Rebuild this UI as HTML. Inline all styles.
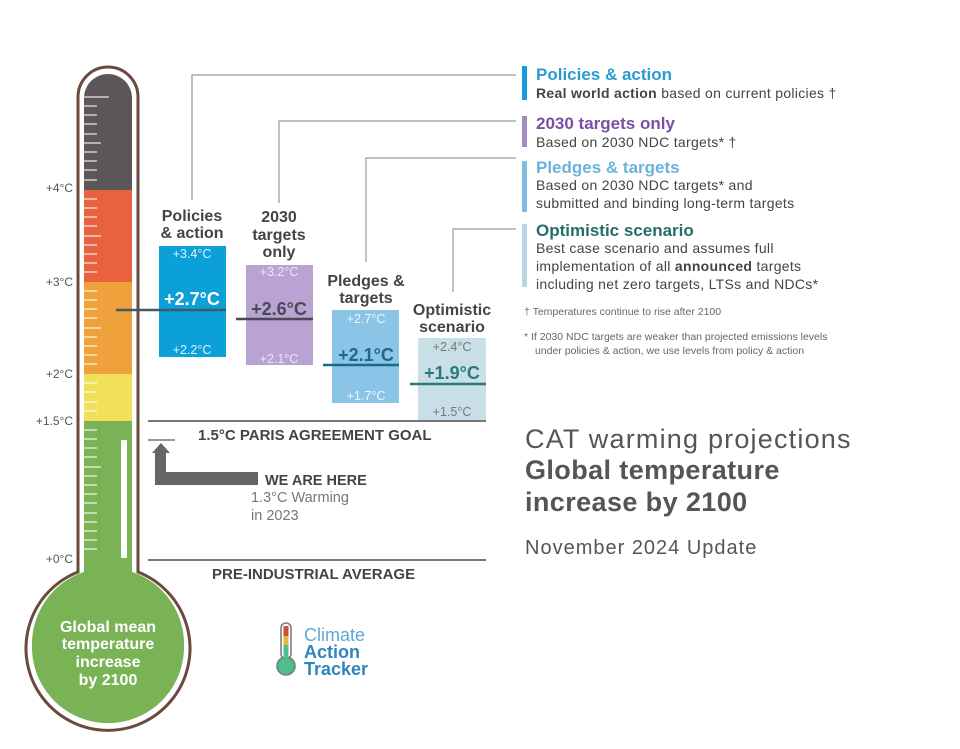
<!DOCTYPE html>
<html><head><meta charset="utf-8"><style>
body{margin:0;background:#fff;}
svg{display:block;font-family:"Liberation Sans",sans-serif;}
</style></head><body>
<svg width="960" height="749" viewBox="0 0 960 749" xmlns="http://www.w3.org/2000/svg">
<path d="M78,572 L78,97 A30,30 0 0 1 138,97 L138,572 A82,82 0 1 1 78,572 Z" fill="#fff" stroke="#6b4a3e" stroke-width="3"/>
<clipPath id="tube"><path d="M84,575 L84,98 A24,24 0 0 1 132,98 L132,575 A76,76 0 1 1 84,575 Z"/></clipPath>
<g clip-path="url(#tube)">
<rect x="70" y="60" width="80" height="130" fill="#5b5657"/>
<rect x="70" y="190" width="80" height="92" fill="#e9623f"/>
<rect x="70" y="282" width="80" height="92" fill="#efa23c"/>
<rect x="70" y="374" width="80" height="47" fill="#f1e05a"/>
<rect x="20" y="421" width="180" height="320" fill="#7ab356"/>
</g>
<circle cx="108" cy="644" r="76" fill="#7ab356"/>
<rect x="84" y="421" width="48" height="160" fill="#7ab356"/>
<rect x="121" y="440" width="6" height="118" fill="#fff"/>
<g stroke="#fff" stroke-width="1.2" opacity="0.85">
<path d="M84,97h25M84,106h13M84,115h13M84,124h13M84,134h13M84,143h17M84,152h13M84,161h13M84,170h13M84,180h13M84,199h13M84,208h13M84,217h13M84,226h13M84,236h17M84,245h13M84,254h13M84,263h13M84,272h13M84,291h13M84,300h13M84,309h13M84,318h13M84,328h17M84,337h13M84,346h13M84,355h13M84,364h13M84,383h13M84,392h13M84,402h13M84,411h13M84,430h13M84,439h13M84,448h13M84,457h13M84,467h17M84,476h13M84,485h13M84,494h13M84,503h13M84,513h13M84,522h13M84,531h13M84,540h13M84,549h13"/>
</g>
<g font-size="12" fill="#555" text-anchor="end">
<text x="73" y="192">+4°C</text><text x="73" y="286">+3°C</text><text x="73" y="378">+2°C</text><text x="73" y="425">+1.5°C</text><text x="73" y="563">+0°C</text>
</g>
<g font-size="16" font-weight="bold" fill="#fff" text-anchor="middle">
<text x="108" y="632">Global mean</text><text x="108" y="649">temperature</text><text x="108" y="667">increase</text><text x="108" y="685">by 2100</text>
</g>
<g stroke="#999" stroke-width="1.2" fill="none">
<path d="M192,200V75H516M279,203V121H516M366,262V158H516M453,292V229H516"/>
</g>
<rect x="159" y="246" width="67" height="111" fill="#0ca0d8"/>
<rect x="246" y="265" width="67" height="100" fill="#b8a3d2"/>
<rect x="332" y="310" width="67" height="93" fill="#8ac4e6"/>
<rect x="418" y="338" width="68" height="82" fill="#c8dfe8"/>
<g stroke-width="2.5">
<line x1="116" y1="310" x2="226" y2="310" stroke="#3f5a6b"/>
<line x1="236" y1="319" x2="313" y2="319" stroke="#4a4a55"/>
<line x1="323" y1="365" x2="399" y2="365" stroke="#1c6a8a"/>
<line x1="410" y1="384" x2="486" y2="384" stroke="#2a7a78"/>
</g>
<g font-weight="bold" font-size="16" fill="#444" text-anchor="middle">
<text x="192" y="221">Policies</text><text x="192" y="238">&amp; action</text>
<text x="279" y="222">2030</text><text x="279" y="240">targets</text><text x="279" y="257">only</text>
<text x="366" y="286">Pledges &amp;</text><text x="366" y="303">targets</text>
<text x="452" y="315">Optimistic</text><text x="452" y="332">scenario</text>
</g>
<g font-size="12.5" text-anchor="middle">
<text x="192" y="258" fill="#dff2fb">+3.4°C</text><text x="192" y="354" fill="#dff2fb">+2.2°C</text>
<text x="192" y="305" fill="#fff" font-size="18" font-weight="bold">+2.7°C</text>
<text x="279" y="276" fill="#eee8f5">+3.2°C</text><text x="279" y="363" fill="#eee8f5">+2.1°C</text>
<text x="279" y="315" fill="#4a4a55" font-size="18" font-weight="bold">+2.6°C</text>
<text x="366" y="323" fill="#eef7fc">+2.7°C</text><text x="366" y="400" fill="#eef7fc">+1.7°C</text>
<text x="366" y="361" fill="#1c6a8a" font-size="18" font-weight="bold">+2.1°C</text>
<text x="452" y="351" fill="#777">+2.4°C</text><text x="452" y="416" fill="#777">+1.5°C</text>
<text x="452" y="379" fill="#2a7a78" font-size="18" font-weight="bold">+1.9°C</text>
</g>
<g stroke="#777" stroke-width="2">
<line x1="148" y1="421" x2="486" y2="421"/><line x1="148" y1="560" x2="486" y2="560"/>
<line x1="148" y1="440" x2="175" y2="440" stroke-width="1.5"/>
</g>
<g font-weight="bold" font-size="15" fill="#444">
<text x="198" y="440">1.5°C PARIS AGREEMENT GOAL</text>
<text x="212" y="579">PRE-INDUSTRIAL AVERAGE</text>
<text x="265" y="485" font-size="14.5">WE ARE HERE</text>
</g>
<path d="M161,443 L170,453 L166,453 L166,472 L258,472 L258,485 L155,485 L155,453 L152,453 Z" fill="#666"/>
<g font-size="14.5" fill="#777"><text x="251" y="502">1.3°C Warming</text><text x="251" y="520">in 2023</text></g>
<rect x="281" y="623" width="10" height="36" rx="5" fill="#fff" stroke="#777" stroke-width="1.5"/>
<circle cx="286" cy="666" r="9" fill="#4dbf8c" stroke="#777" stroke-width="1.5"/>
<rect x="283.5" y="626" width="5" height="10" fill="#c9503a"/><rect x="283.5" y="636" width="5" height="9" fill="#e5b83d"/><rect x="283.5" y="645" width="5" height="18" fill="#4dbf8c"/>
<g font-size="18"><text x="304" y="641" fill="#5fa9d4">Climate</text><text x="304" y="658" fill="#2f86bd" font-weight="bold">Action</text><text x="304" y="675" fill="#2f86bd" font-weight="bold">Tracker</text></g>
<rect x="522" y="66" width="5" height="34" fill="#1a9ad6"/>
<rect x="522" y="116" width="5" height="31" fill="#a08dc4"/>
<rect x="522" y="161" width="5" height="51" fill="#7fbde3"/>
<rect x="522" y="224" width="5" height="63" fill="#b7d6e3"/>
<g font-size="17" font-weight="bold">
<text x="536" y="80" fill="#2b9bd0">Policies &amp; action</text>
<text x="536" y="129" fill="#7a4fa6">2030 targets only</text>
<text x="536" y="173" fill="#6ab3dc">Pledges &amp; targets</text>
<text x="536" y="236" fill="#236e6b">Optimistic scenario</text>
</g>
<g font-size="14" fill="#444" letter-spacing="0.3">
<text x="536" y="98"><tspan font-weight="bold">Real world action</tspan> based on current policies †</text>
<text x="536" y="147">Based on 2030 NDC targets* †</text>
<text x="536" y="190">Based on 2030 NDC targets* and</text>
<text x="536" y="208">submitted and binding long-term targets</text>
<text x="536" y="253">Best case scenario and assumes full</text>
<text x="536" y="271">implementation of all <tspan font-weight="bold">announced</tspan> targets</text>
<text x="536" y="289">including net zero targets, LTSs and NDCs*</text>
</g>
<g font-size="10.5" fill="#666">
<text x="524" y="315">†  Temperatures continue to rise after 2100</text>
<text x="524" y="340">*  If 2030 NDC targets are weaker than projected emissions levels</text>
<text x="535" y="354">under policies &amp; action, we use levels from policy &amp; action</text>
</g>
<g fill="#555">
<text x="525" y="448" font-size="27" letter-spacing="1.2">CAT warming projections</text>
<text x="525" y="479" font-size="27" font-weight="bold" letter-spacing="0.4">Global temperature</text>
<text x="525" y="511" font-size="27" font-weight="bold" letter-spacing="0.4">increase by 2100</text>
<text x="525" y="554" font-size="20" letter-spacing="1">November 2024 Update</text>
</g>
</svg>
</body></html>
